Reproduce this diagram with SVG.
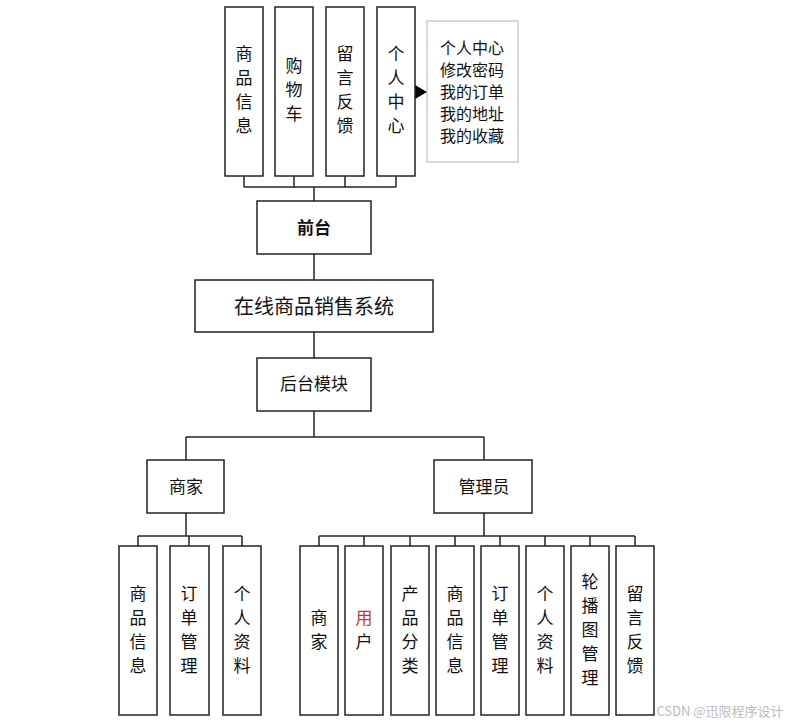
<svg xmlns="http://www.w3.org/2000/svg" width="805" height="727" viewBox="0 0 805 727">
<style>
rect{fill:#fff;stroke:#222;stroke-width:1.5}
text{font-family:"Noto Sans CJK SC","Noto Sans",sans-serif;font-size:17px;fill:#111;text-anchor:middle}
.c line,.c polyline{stroke:#222;stroke-width:1.5;fill:none}
</style>
<defs><marker id="a" markerWidth="13" markerHeight="14" refX="12" refY="7" orient="auto" markerUnits="userSpaceOnUse"><path d="M0,0L12,7L0,14z" fill="#000"/></marker></defs>
<rect x="0" y="0" width="805" height="727" style="fill:#fff;stroke:none"/>
<g class="c">
<line x1="244" y1="176" x2="244" y2="187"/><line x1="294" y1="176" x2="294" y2="187"/><line x1="345" y1="176" x2="345" y2="187"/><line x1="396" y1="176" x2="396" y2="187"/>
<line x1="244" y1="187" x2="396" y2="187"/><line x1="314" y1="187" x2="314" y2="201"/>
<line x1="415" y1="92" x2="427" y2="92" marker-end="url(#a)"/>
<line x1="314" y1="254" x2="314" y2="280"/><line x1="314" y1="332" x2="314" y2="358"/>
<line x1="314" y1="411" x2="314" y2="437"/><line x1="186" y1="437" x2="484" y2="437"/>
<line x1="186" y1="437" x2="186" y2="460"/><line x1="484" y1="437" x2="484" y2="460"/>
<line x1="186" y1="513" x2="186" y2="536"/><line x1="138" y1="536" x2="242" y2="536"/>
<line x1="138" y1="536" x2="138" y2="546"/><line x1="189" y1="536" x2="189" y2="546"/><line x1="242" y1="536" x2="242" y2="546"/>
<line x1="484" y1="513" x2="484" y2="536"/><line x1="319" y1="536" x2="635" y2="536"/>
<line x1="319" y1="536" x2="319" y2="546"/><line x1="364" y1="536" x2="364" y2="546"/><line x1="410" y1="536" x2="410" y2="546"/><line x1="455" y1="536" x2="455" y2="546"/><line x1="500" y1="536" x2="500" y2="546"/><line x1="545" y1="536" x2="545" y2="546"/><line x1="590" y1="536" x2="590" y2="546"/><line x1="635" y1="536" x2="635" y2="546"/>
</g>
<g id="t1"><rect x="225" y="7" width="38" height="169"/><text x="244"><tspan x="244" y="60">商</tspan><tspan x="244" y="84">品</tspan><tspan x="244" y="108">信</tspan><tspan x="244" y="132">息</tspan></text></g>
<g id="t2"><rect x="275" y="7" width="38" height="169"/><text><tspan x="294" y="72">购</tspan><tspan x="294" y="96">物</tspan><tspan x="294" y="120">车</tspan></text></g>
<g id="t3"><rect x="326" y="7" width="38" height="169"/><text><tspan x="345" y="60">留</tspan><tspan x="345" y="84">言</tspan><tspan x="345" y="108">反</tspan><tspan x="345" y="132">馈</tspan></text></g>
<g id="t4"><rect x="377" y="7" width="38" height="169"/><text><tspan x="396" y="60">个</tspan><tspan x="396" y="84">人</tspan><tspan x="396" y="108">中</tspan><tspan x="396" y="132">心</tspan></text></g>
<g id="info"><rect x="427" y="21" width="91" height="141" style="stroke:#ccc"/>
<text x="472" y="54" style="font-size:16px">个人中心</text><text x="472" y="76" style="font-size:16px">修改密码</text><text x="472" y="98" style="font-size:16px">我的订单</text><text x="472" y="120" style="font-size:16px">我的地址</text><text x="472" y="142" style="font-size:16px">我的收藏</text></g>
<g id="qt"><rect x="257" y="201" width="114" height="53"/><text x="314" y="234" style="font-weight:bold">前台</text></g>
<g id="main"><rect x="195" y="280" width="238" height="52"/><text x="314" y="314" style="font-size:20px">在线商品销售系统</text></g>
<g id="ht"><rect x="257" y="358" width="114" height="53"/><text x="314" y="390">后台模块</text></g>
<g id="sj"><rect x="147" y="460" width="77" height="53"/><text x="186" y="493">商家</text></g>
<g id="gly"><rect x="434" y="460" width="98" height="53"/><text x="484" y="493">管理员</text></g>
<g id="m1"><rect x="119" y="546" width="38" height="169"/><text><tspan x="138" y="600">商</tspan><tspan x="138" y="624">品</tspan><tspan x="138" y="648">信</tspan><tspan x="138" y="672">息</tspan></text></g>
<g id="m2"><rect x="170" y="546" width="39" height="169"/><text><tspan x="189" y="600">订</tspan><tspan x="189" y="624">单</tspan><tspan x="189" y="648">管</tspan><tspan x="189" y="672">理</tspan></text></g>
<g id="m3"><rect x="223" y="546" width="38" height="169"/><text><tspan x="242" y="600">个</tspan><tspan x="242" y="624">人</tspan><tspan x="242" y="648">资</tspan><tspan x="242" y="672">料</tspan></text></g>
<g id="a1"><rect x="300" y="546" width="38" height="169"/><text><tspan x="319" y="624">商</tspan><tspan x="319" y="648">家</tspan></text></g>
<g id="a2"><rect x="345" y="546" width="38" height="169"/><text><tspan x="364" y="624" style="fill:#c0392b">用</tspan><tspan x="364" y="648">户</tspan></text></g>
<g id="a3"><rect x="391" y="546" width="38" height="169"/><text><tspan x="410" y="600">产</tspan><tspan x="410" y="624">品</tspan><tspan x="410" y="648">分</tspan><tspan x="410" y="672">类</tspan></text></g>
<g id="a4"><rect x="436" y="546" width="38" height="169"/><text><tspan x="455" y="600">商</tspan><tspan x="455" y="624">品</tspan><tspan x="455" y="648">信</tspan><tspan x="455" y="672">息</tspan></text></g>
<g id="a5"><rect x="481" y="546" width="38" height="169"/><text><tspan x="500" y="600">订</tspan><tspan x="500" y="624">单</tspan><tspan x="500" y="648">管</tspan><tspan x="500" y="672">理</tspan></text></g>
<g id="a6"><rect x="526" y="546" width="38" height="169"/><text><tspan x="545" y="600">个</tspan><tspan x="545" y="624">人</tspan><tspan x="545" y="648">资</tspan><tspan x="545" y="672">料</tspan></text></g>
<g id="a7"><rect x="571" y="546" width="38" height="169"/><text><tspan x="590" y="588">轮</tspan><tspan x="590" y="612">播</tspan><tspan x="590" y="636">图</tspan><tspan x="590" y="660">管</tspan><tspan x="590" y="684">理</tspan></text></g>
<g id="a8"><rect x="616" y="546" width="38" height="169"/><text><tspan x="635" y="600">留</tspan><tspan x="635" y="624">言</tspan><tspan x="635" y="648">反</tspan><tspan x="635" y="672">馈</tspan></text></g>
<text x="720" y="716" style="font-size:13px;fill:#bbb">CSDN @迅限程序设计</text>
</svg>
